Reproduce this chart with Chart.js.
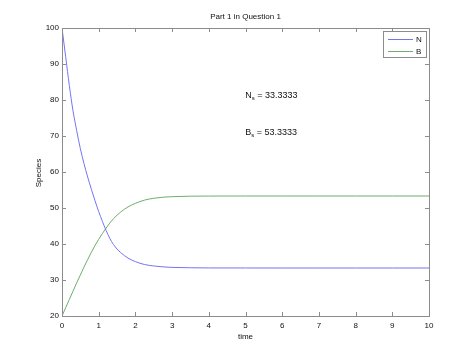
<!DOCTYPE html>
<html>
<head>
<meta charset="utf-8">
<script src="https://cdn.jsdelivr.net/npm/chart.js@4.4.0/dist/chart.umd.min.js"></script>
<style>
html,body{margin:0;padding:0;background:#fff;}
#wrap{width:474px;height:355px;}
</style>
</head>
<body>
<div id="wrap"><canvas id="c" width="474" height="355"></canvas></div>
<script>
const timeValues = [0, 0.1, 0.2, 0.3, 0.4, 0.5, 0.6, 0.7, 0.8, 0.9, 1.0, 1.1, 1.2, 1.3, 1.4, 1.5, 1.6, 1.8, 2.0, 2.25, 2.5, 2.75, 3.0, 3.5, 4.0, 5, 6, 7, 8, 9, 10];
const seriesN = [100, 92, 84, 77, 71.5, 66.5, 62.3, 58.6, 55.2, 52, 49.0, 46.3, 43.8, 41.6, 39.9, 38.6, 37.6, 36.1, 35.1, 34.3, 33.9, 33.65, 33.5, 33.4, 33.35, 33.34, 33.3333, 33.3333, 33.3333, 33.3333, 33.3333];
const seriesB = [20, 22.3, 24.6, 26.9, 29.2, 31.4, 33.6, 35.7, 37.7, 39.6, 41.3, 42.9, 44.4, 45.8, 47.0, 48.0, 48.9, 50.3, 51.3, 52.2, 52.7, 53.0, 53.15, 53.28, 53.32, 53.33, 53.3333, 53.3333, 53.3333, 53.3333, 53.3333];
const xTicks = [0,1,2,3,4,5,6,7,8,9,10];
const yTicks = [20,30,40,50,60,70,80,90,100];
const seriesNames = ['N', 'B'];
const steadyN = 33.3333;
const steadyB = 53.3333;
const titleText = 'Part 1 in Question 1';
const xTitle = 'time';
const yTitle = 'Species';

const FONT = '"Liberation Sans", Arial, Helvetica, sans-serif';
const colN = '#7474f2';
const colB = '#6cae6c';
const axisCol = '#8c8c8c';

function pts(ys){ return timeValues.map((t,i)=>({x:t,y:ys[i]})); }

const deco = {
  id:'deco',
  afterDraw(chart){
    const ctx = chart.ctx, a = chart.chartArea;
    const xs = chart.scales.x, ys = chart.scales.y;
    ctx.save();
    // box
    ctx.strokeStyle = axisCol; ctx.lineWidth = 1;
    ctx.strokeRect(Math.round(a.left)+0.5, Math.round(a.top)+0.5, Math.round(a.right-a.left), Math.round(a.bottom-a.top));
    // inward ticks
    const tl = 4;
    ctx.beginPath();
    xTicks.forEach(v=>{
      const px = Math.round(xs.getPixelForValue(v))+0.5;
      ctx.moveTo(px, a.bottom); ctx.lineTo(px, a.bottom-tl);
      ctx.moveTo(px, a.top); ctx.lineTo(px, a.top+tl);
    });
    yTicks.forEach(v=>{
      const py = Math.round(ys.getPixelForValue(v))+0.5;
      ctx.moveTo(a.left, py); ctx.lineTo(a.left+tl, py);
      ctx.moveTo(a.right, py); ctx.lineTo(a.right-tl, py);
    });
    ctx.stroke();
    // title
    ctx.fillStyle = '#111';
    ctx.font = '8px ' + FONT;
    ctx.textAlign = 'center'; ctx.textBaseline = 'middle';
    ctx.fillText(titleText, (a.left+a.right)/2, a.top - 11);
    // x title
    ctx.fillText(xTitle, (a.left+a.right)/2, a.bottom + 21);
    // y title
    ctx.save();
    ctx.translate(a.left - 23, (a.top+a.bottom)/2 + 1);
    ctx.rotate(-Math.PI/2);
    ctx.fillText(yTitle, 0, 0);
    ctx.restore();
    // legend
    const lx = a.right - 46, ly = a.top + 3, lw = 43, lh = 26;
    ctx.fillStyle = '#fff';
    ctx.fillRect(lx, ly, lw, lh);
    ctx.strokeStyle = axisCol;
    ctx.strokeRect(Math.round(lx)+0.5, Math.round(ly)+0.5, lw, lh);
    const cols = [colN, colB];
    seriesNames.forEach((n,i)=>{
      const yy = Math.round(ly + 8 + i*12)+0.5;
      ctx.strokeStyle = cols[i]; ctx.lineWidth = 1;
      ctx.beginPath(); ctx.moveTo(lx+5, yy); ctx.lineTo(lx+30, yy); ctx.stroke();
      ctx.fillStyle = '#111'; ctx.textAlign = 'left'; ctx.textBaseline = 'middle';
      ctx.font = '8px ' + FONT;
      ctx.fillText(n, lx+33, yy);
    });
    // annotations
    function sub(label, val, tx, vy){
      let x = xs.getPixelForValue(tx), y = ys.getPixelForValue(vy);
      ctx.fillStyle = '#111'; ctx.textAlign = 'left'; ctx.textBaseline = 'middle';
      ctx.font = '9px ' + FONT;
      ctx.fillText(label, x, y);
      x += ctx.measureText(label).width;
      ctx.font = '6px ' + FONT;
      ctx.fillText('s', x, y + 3);
      x += ctx.measureText('s').width;
      ctx.font = '9px ' + FONT;
      ctx.fillText(' = ' + val.toFixed(4), x, y);
    }
    sub('N', steadyN, 4.99, 81.2);
    sub('B', steadyB, 4.99, 71.0);
    ctx.restore();
  }
};

new Chart(document.getElementById('c'), {
  type:'scatter',
  data:{ datasets:[
    {label:seriesNames[0], data:pts(seriesN), showLine:true, borderColor:colN, borderWidth:1, pointRadius:0, cubicInterpolationMode:'monotone', fill:false},
    {label:seriesNames[1], data:pts(seriesB), showLine:true, borderColor:colB, borderWidth:1, pointRadius:0, cubicInterpolationMode:'monotone', fill:false}
  ]},
  options:{
    responsive:false, animation:false,
    layout:{padding:{left:0, right:45, top:28, bottom:0}},
    plugins:{legend:{display:false}, title:{display:false}, tooltip:{enabled:false}},
    scales:{
      x:{type:'linear', min:0, max:10,
        afterBuildTicks(s){ s.ticks = xTicks.map(v=>({value:v})); },
        afterFit(s){ s.height = 39; },
        grid:{display:false, drawTicks:false}, border:{display:false},
        ticks:{color:'#111', font:{family:FONT, size:8}, padding:5, maxRotation:0}
      },
      y:{type:'linear', min:20, max:100,
        afterBuildTicks(s){ s.ticks = yTicks.map(v=>({value:v})); },
        afterFit(s){ s.width = 62; },
        grid:{display:false, drawTicks:false}, border:{display:false},
        ticks:{color:'#111', font:{family:FONT, size:8}, padding:3}
      }
    }
  },
  plugins:[deco]
});
</script>
</body>
</html>
